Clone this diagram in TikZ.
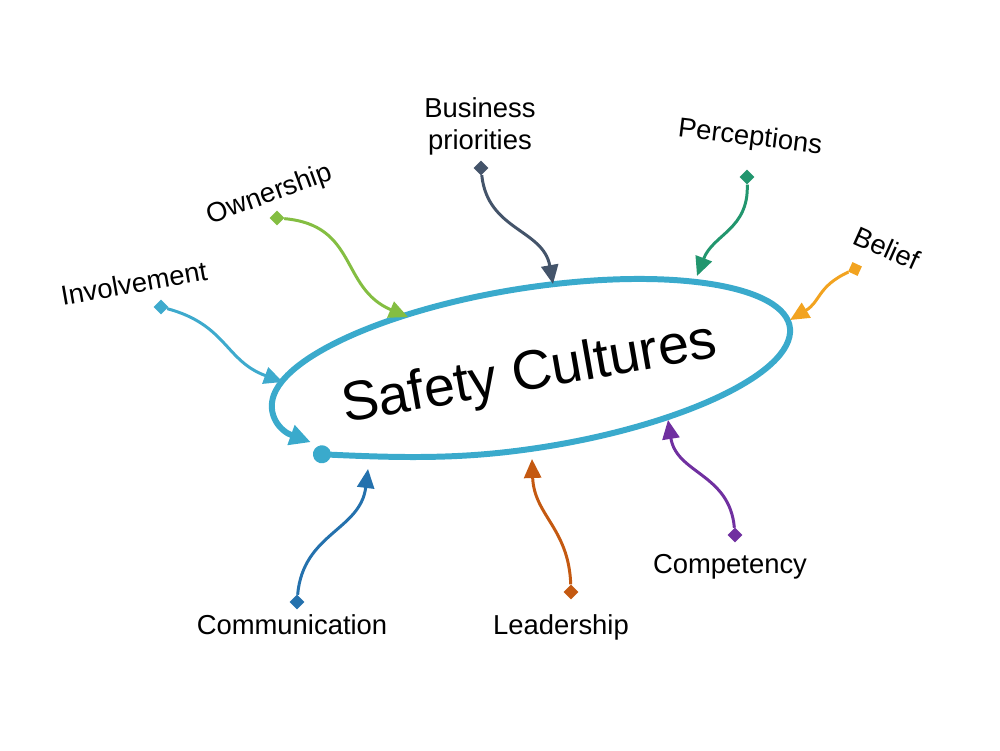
\documentclass[tikz,border=0pt]{standalone}
\usepackage{fontspec}
\setmainfont{Liberation Sans}
\usetikzlibrary{arrows.meta}
\usetikzlibrary{shapes.geometric}

\definecolor{ringblue}{RGB}{58,170,204}
\definecolor{cInv}{RGB}{62,170,205}
\definecolor{cOwn}{RGB}{132,190,66}
\definecolor{cBus}{RGB}{68,84,106}
\definecolor{cPer}{RGB}{34,150,110}
\definecolor{cBel}{RGB}{242,163,32}
\definecolor{cCom}{RGB}{112,48,160}
\definecolor{cLea}{RGB}{196,89,17}
\definecolor{cCmm}{RGB}{36,113,173}

\begin{document}
\begin{tikzpicture} [
  lbl/.style={font=\fontsize{15.6}{18.2}\selectfont, inner sep=1pt},
  dia/.style={diamond, fill=#1, inner sep=0pt, minimum size=0.3cm},
  link/.style={draw=#1, line width=1.7pt, -{Triangle[length=0.38cm,width=0.34cm]}}
]
\useasboundingbox (0,0) rectangle (20,15);

% the ring
\begin{scope}[shift={(10.62,7.64)}, rotate=9]
\coordinate (dot) at (-4.40,-1.05);
\draw[ringblue, line width=3.4pt, -{Triangle[length=0.42cm,width=0.4cm]}] (dot) .. controls (-3.2,-1.30) and (-2.11,-1.51) .. (260:5.24 and 1.6) arc[start angle=260, end angle=569, x radius=5.24, y radius=1.6];
\fill[ringblue] (dot) circle (0.18);
\end{scope}
\node[font=\fontsize{31.6}{36}\selectfont, rotate=10] (title) at (10.59,7.49) {Safety Cultures};

% ends on the ring
\coordinate (t-inv) at (5.66,7.36);
\coordinate (t-own) at (8.16,8.66);
\coordinate (t-bus) at (11.06,9.32);
\coordinate (t-per) at (13.94,9.48);
\coordinate (t-bel) at (15.80,8.60);
\coordinate (t-com) at (13.36,6.60);
\coordinate (t-lea) at (10.64,5.82);
\coordinate (t-cmm) at (7.36,5.62);

% diamonds
\node[dia=cInv] (d-inv) at (3.22,8.86) {};
\node[dia=cOwn] (d-own) at (5.54,10.64) {};
\node[dia=cBus] (d-bus) at (9.62,11.64) {};
\node[dia=cPer] (d-per) at (14.94,11.46) {};
\node[dia=cBel, rotate=20] (d-bel) at (17.10,9.62) {};
\node[dia=cCom] (d-com) at (14.70,4.30) {};
\node[dia=cLea] (d-lea) at (11.42,3.16) {};
\node[dia=cCmm] (d-cmm) at (5.94,2.96) {};

% labels
\node[lbl, rotate=10] (l-inv) at (2.68,9.34) {Involvement};
\node[lbl, rotate=20] (l-own) at (5.40,11.10) {Ownership};
\node[lbl, align=center] (l-bus) at (9.60,12.48) {Business\\priorities};
\node[lbl, rotate=-7] (l-per) at (15.00,12.24) {Perceptions};
\node[lbl, rotate=-24] (l-bel) at (17.74,10.04) {Belief};
\node[lbl, anchor=base] (l-com) at (14.60,3.54) {Competency};
\node[lbl, anchor=base] (l-lea) at (11.22,2.32) {Leadership};
\node[lbl, anchor=base] (l-cmm) at (5.84,2.32) {Communication};

\foreach \n/\c/\o/\i/\l in {inv/cInv/-15/160/1.15, own/cOwn/-5/157/1.2, bus/cBus/-84/100/1.1, per/cPer/-88/69/1.1,
  bel/cBel/202/31/1.2, com/cCom/95/-81/1.1, lea/cLea/92/-88/1.1, cmm/cCmm/85/-97/1.1}
 \draw[link=\c] (d-\n) to[out=\o,in=\i,looseness=\l] (t-\n);
\end{tikzpicture}
\end{document}
